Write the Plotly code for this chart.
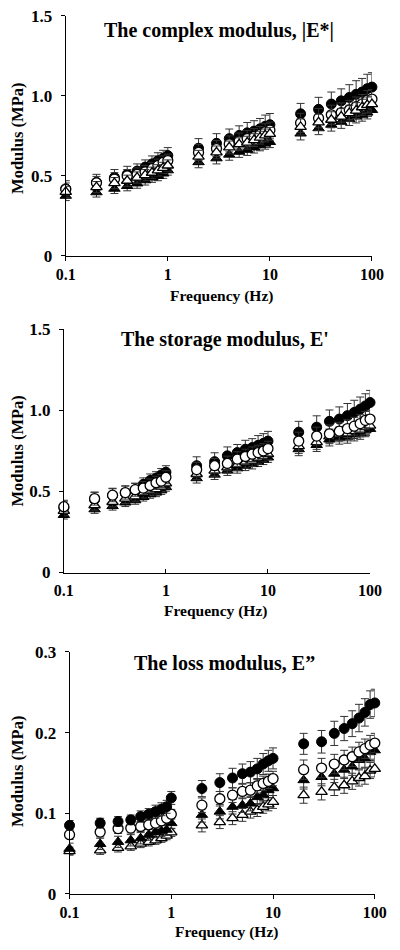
import plotly.graph_objects as go

# ---------------- data ----------------
freq = [0.1, 0.2, 0.3, 0.4, 0.5, 0.6, 0.7, 0.8, 0.9, 1.0,
        2, 3, 4, 5, 6, 7, 8, 9, 10,
        20, 30, 40, 50, 60, 70, 80, 90, 100]

# Panel 1: complex modulus |E*| (MPa)
c_fc = [0.42, 0.46, 0.49, 0.51, 0.53, 0.555, 0.575, 0.595, 0.61, 0.627,
        0.673, 0.704, 0.733, 0.753, 0.769, 0.78, 0.794, 0.81, 0.82,
        0.888, 0.916, 0.949, 0.969, 0.99, 1.01, 1.024, 1.045, 1.055]
c_oc = [0.416, 0.457, 0.48, 0.50, 0.51, 0.525, 0.545, 0.565, 0.585, 0.596,
        0.647, 0.671, 0.70, 0.718, 0.733, 0.745, 0.759, 0.776, 0.786,
        0.831, 0.861, 0.882, 0.896, 0.912, 0.933, 0.949, 0.973, 0.98]
c_ot = [0.40, 0.43, 0.455, 0.47, 0.49, 0.505, 0.52, 0.535, 0.55, 0.565,
        0.62, 0.647, 0.678, 0.698, 0.708, 0.724, 0.739, 0.753, 0.763,
        0.806, 0.835, 0.851, 0.871, 0.892, 0.908, 0.929, 0.943, 0.949]
c_ft = [0.376, 0.398, 0.42, 0.437, 0.453, 0.473, 0.49, 0.50, 0.515, 0.535,
        0.586, 0.61, 0.633, 0.651, 0.663, 0.678, 0.692, 0.702, 0.712,
        0.765, 0.798, 0.82, 0.837, 0.855, 0.871, 0.882, 0.896, 0.912]
c_fc_err = [0.05, 0.05, 0.05, 0.05, 0.045, 0.045, 0.05, 0.05, 0.05, 0.05,
            0.06, 0.06, 0.06, 0.06, 0.065, 0.065, 0.065, 0.07, 0.07,
            0.065, 0.075, 0.075, 0.075, 0.08, 0.085, 0.085, 0.09, 0.09]
c_oc_err = [0.04] * 10 + [0.05] * 9 + [0.06] * 9
c_ot_err = [0.035] * 10 + [0.04] * 9 + [0.05] * 9
c_ft_err = [0.03] * 10 + [0.035] * 9 + [0.04] * 9

# Panel 2: storage modulus E' (MPa)
s_fc = [0.40, 0.45, 0.475, 0.49, 0.51, 0.544, 0.568, 0.582, 0.602, 0.619,
        0.659, 0.684, 0.72, 0.74, 0.761, 0.771, 0.785, 0.797, 0.811,
        0.866, 0.897, 0.933, 0.947, 0.968, 0.988, 1.008, 1.028, 1.049]
s_oc = [0.406, 0.456, 0.477, 0.493, 0.511, 0.521, 0.537, 0.554, 0.564, 0.588,
        0.635, 0.659, 0.673, 0.70, 0.716, 0.73, 0.74, 0.75, 0.765,
        0.811, 0.842, 0.856, 0.872, 0.888, 0.903, 0.919, 0.939, 0.947]
s_ot = [0.38, 0.415, 0.435, 0.456, 0.47, 0.49, 0.505, 0.515, 0.53, 0.55,
        0.608, 0.629, 0.649, 0.665, 0.68, 0.69, 0.705, 0.718, 0.73,
        0.78, 0.805, 0.84, 0.852, 0.858, 0.872, 0.882, 0.898, 0.906]
s_ft = [0.355, 0.39, 0.41, 0.432, 0.446, 0.466, 0.483, 0.493, 0.507, 0.527,
        0.582, 0.604, 0.629, 0.643, 0.659, 0.669, 0.684, 0.696, 0.71,
        0.761, 0.787, 0.821, 0.832, 0.838, 0.852, 0.862, 0.878, 0.886]
s_fc_err = [0.04, 0.045, 0.045, 0.045, 0.04, 0.04, 0.04, 0.04, 0.04, 0.04,
            0.055, 0.055, 0.055, 0.05, 0.055, 0.055, 0.06, 0.06, 0.06,
            0.067, 0.07, 0.07, 0.075, 0.075, 0.075, 0.075, 0.075, 0.075]
s_oc_err = [0.04] * 10 + [0.045] * 9 + [0.055] * 9
s_ot_err = [0.03] * 10 + [0.035] * 9 + [0.045] * 9
s_ft_err = [0.025] * 10 + [0.03] * 9 + [0.04] * 9

# Panel 3: loss modulus E'' (MPa)
l_fc = [0.085, 0.0878, 0.0898, 0.0918, 0.0959, 0.0988, 0.102, 0.105, 0.108, 0.119,
        0.1306, 0.138, 0.1437, 0.149, 0.151, 0.155, 0.161, 0.165, 0.168,
        0.186, 0.1886, 0.199, 0.205, 0.211, 0.218, 0.225, 0.2347, 0.2367]
l_oc = [0.0735, 0.0767, 0.081, 0.0816, 0.0837, 0.0857, 0.0878, 0.0906, 0.0939, 0.0988,
        0.110, 0.118, 0.1224, 0.127, 0.1286, 0.134, 0.137, 0.1396, 0.143,
        0.154, 0.156, 0.161, 0.166, 0.170, 0.176, 0.180, 0.1845, 0.187]
l_ft = [0.056, 0.062, 0.0645, 0.0665, 0.069, 0.0735, 0.0767, 0.0784, 0.0796, 0.0878,
        0.098, 0.102, 0.108, 0.110, 0.112, 0.120, 0.123, 0.1286, 0.131,
        0.141, 0.145, 0.149, 0.154, 0.158, 0.166, 0.168, 0.176, 0.178]
l_ot = [0.053, 0.054, 0.057, 0.059, 0.0624, 0.0645, 0.0665, 0.069, 0.0722, 0.0763,
        0.0849, 0.089, 0.0939, 0.098, 0.102, 0.104, 0.108, 0.111, 0.114,
        0.1224, 0.1265, 0.132, 0.1347, 0.1396, 0.1437, 0.146, 0.153, 0.155]
l_fc_err = [0.006, 0.006, 0.006, 0.006, 0.007, 0.007, 0.008, 0.008, 0.008, 0.008,
            0.01, 0.011, 0.012, 0.012, 0.013, 0.013, 0.013, 0.013, 0.013,
            0.013, 0.014, 0.015, 0.015, 0.016, 0.017, 0.017, 0.017, 0.017]
l_oc_err = [0.006] * 10 + [0.009] * 9 + [0.012] * 9
l_ft_err = [0.007] * 10 + [0.009] * 9 + [0.011] * 9
l_ot_err = [0.005] * 10 + [0.008] * 9 + [0.01] * 9

titles = ["The complex modulus, |E*|", "The storage modulus, E'", "The loss modulus, E\u201d"]
y_titles = ["Modulus (MPa)"] * 3
x_title = "Frequency (Hz)"
x_ticks = [0.1, 1, 10, 100]
x_ticktext = ["0.1", "1", "10", "100"]
y_ticks_12 = [0, 0.5, 1.0, 1.5]
y_ticktext_12 = ["0", "0.5", "1.0", "1.5"]
y_ticks_3 = [0, 0.1, 0.2, 0.3]
y_ticktext_3 = ["0", "0.1", "0.2", "0.3"]

# ---------------- layout helpers ----------------
W, H = 400, 950
def px(x):
    return x / W
def py(y):
    return 1 - y / H

FONT = "Liberation Serif"

panels = [
    dict(series=[(c_fc, c_fc_err, "fc"), (c_ft, c_ft_err, "ft"), (c_oc, c_oc_err, "oc"), (c_ot, c_ot_err, "ot")],
         xd=(59, 383), yd=(7, 252), yr=[0, 1.5], yt=(y_ticks_12, y_ticktext_12), xticks="outside",
         title_xy=(221, 22), xt_xy=(224, 293), yt_xy=(8, 132)),
    dict(series=[(s_fc, s_fc_err, "fc"), (s_ft, s_ft_err, "ft"), (s_ot, s_ot_err, "ot"), (s_oc, s_oc_err, "oc")],
         xd=(57, 381), yd=(327, 575), yr=[0, 1.5], yt=(y_ticks_12, y_ticktext_12), xticks="inside",
         title_xy=(227, 337), xt_xy=(217, 614), yt_xy=(8, 451)),
    dict(series=[(l_ot, l_ot_err, "ot"), (l_ft, l_ft_err, "ft"), (l_oc, l_oc_err, "oc"), (l_fc, l_fc_err, "fc")],
         xd=(63, 386), yd=(656, 903), yr=[0, 0.3], yt=(y_ticks_3, y_ticktext_3), xticks="outside",
         title_xy=(227, 667), xt_xy=(229, 942), yt_xy=(8, 778)),
]

styles = {
    "fc": dict(symbol="circle", color="black", line=dict(color="black", width=1), size=10),
    "oc": dict(symbol="circle", color="white", line=dict(color="black", width=1.3), size=10),
    "ft": dict(symbol="triangle-up", color="black", line=dict(color="black", width=1), size=10),
    "ot": dict(symbol="triangle-up", color="white", line=dict(color="black", width=1.3), size=10),
}

fig = go.Figure()
annotations = []
layout = {}
for i, p in enumerate(panels, start=1):
    xa = "x" if i == 1 else f"x{i}"
    ya = "y" if i == 1 else f"y{i}"
    for vals, errs, kind in p["series"]:
        fig.add_trace(go.Scatter(
            x=freq, y=vals, mode="markers", xaxis=xa, yaxis=ya,
            marker=styles[kind], cliponaxis=False, showlegend=False,
            error_y=dict(type="data", array=errs, visible=True, color="#333",
                         thickness=1, width=4),
        ))
    xkey = "xaxis" if i == 1 else f"xaxis{i}"
    ykey = "yaxis" if i == 1 else f"yaxis{i}"
    layout[xkey] = dict(
        type="log", range=[-1, 2], domain=[px(p["xd"][0]), px(p["xd"][1])],
        anchor=ya, showgrid=False, zeroline=False, showline=True,
        linecolor="black", linewidth=1, ticks=p["xticks"], ticklen=4,
        tickcolor="black", tickvals=x_ticks, ticktext=x_ticktext,
        tickfont=dict(family=FONT, size=16, color="black", weight="bold"),
        ticklabelstandoff=0 if p["xticks"] == "outside" else 3,
    )
    layout[ykey] = dict(
        range=p["yr"], domain=[py(p["yd"][1]), py(p["yd"][0])],
        anchor=xa, showgrid=False, zeroline=False, showline=True,
        linecolor="black", linewidth=1, ticks="outside", ticklen=4,
        tickcolor="black", tickvals=p["yt"][0], ticktext=p["yt"][1],
        tickfont=dict(family=FONT, size=17, color="black", weight="bold"),
        ticklabelstandoff=5,
    )
    annotations.append(dict(text=titles[i - 1], x=px(p["title_xy"][0]), y=py(p["title_xy"][1]),
                            xref="paper", yref="paper", showarrow=False,
                            xanchor="center", yanchor="middle",
                            font=dict(family=FONT, size=20, color="black", weight="bold")))
    annotations.append(dict(text=x_title, x=px(p["xt_xy"][0]), y=py(p["xt_xy"][1]),
                            xref="paper", yref="paper", showarrow=False,
                            xanchor="center", yanchor="middle",
                            font=dict(family=FONT, size=15.5, color="black", weight="bold")))
    annotations.append(dict(text=y_titles[i - 1], x=px(p["yt_xy"][0]), y=py(p["yt_xy"][1]),
                            xref="paper", yref="paper", showarrow=False, textangle=-90,
                            xanchor="center", yanchor="middle",
                            font=dict(family=FONT, size=16.5, color="black", weight="bold")))

fig.update_layout(
    width=W, height=H, margin=dict(l=0, r=0, t=0, b=0),
    paper_bgcolor="white", plot_bgcolor="white",
    annotations=annotations, **layout,
)

fig.write_html("out.html")
